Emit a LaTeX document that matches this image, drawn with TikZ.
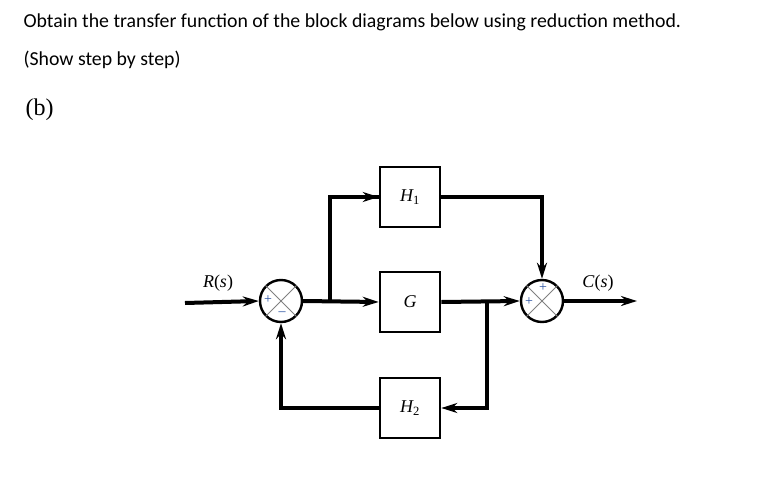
\documentclass[tikz,border=0pt]{standalone}
\usepackage{fontspec}
\setmainfont{Liberation Serif}
\newfontfamily\uisans{Carlito}
\usetikzlibrary{arrows.meta}
\definecolor{signblue}{RGB}{40,80,160}
\begin{document}
\begin{tikzpicture}[x=1pt,y=-1pt,
  blk/.style={draw, line width=2.6pt, minimum width=60pt, minimum height=60pt, inner sep=0pt, font=\fontsize{18}{20}\selectfont\itshape},
  sum/.style={draw, line width=2.4pt, circle, minimum size=42pt, inner sep=0pt},
  sig/.style={line width=4pt, -{Stealth[length=16pt,width=10pt]}},
  wire/.style={line width=4pt},
  pm/.style={font=\fontsize{14}{14}\selectfont, text=signblue, inner sep=0pt},
  lbl/.style={font=\fontsize{18}{20}\selectfont}]
\useasboundingbox (0,0) rectangle (780,498);
\node[anchor=west, font=\uisans\fontsize{19.8}{22}\selectfont] (t1) at (20,22) {Obtain the transfer function of the block diagrams below using reduction method.};
\node[anchor=west, font=\uisans\fontsize{19.8}{22}\selectfont] (t2) at (20,60) {(Show step by step)};
\node[anchor=west, font=\fontsize{24}{26}\selectfont] (tb) at (22,110) {(b)};

\node[sum] (s1) at (281,301) {};
\node[sum] (s2) at (542,301) {};
\foreach \s in {s1,s2}{
  \draw[gray, line width=1pt] (\s.north west) -- (\s.south east) (\s.north east) -- (\s.south west);}
\node[pm] at (268,300) {+};
\node[pm] at (282,314) {\textendash};
\node[pm] at (543,288) {+};
\node[pm] at (529,302) {+};

\node[blk] (h1) at (410,197) {H\textsubscript{\upshape 1}};
\node[blk] (g) at (410,302) {G};
\node[blk] (h2) at (410,408) {H\textsubscript{\upshape 2}};

\coordinate (in) at (185,303);
\coordinate (out) at (637,301);
\coordinate (b1) at (330,302);
\coordinate (b2) at (487,302);
\node[lbl] (rs) at (218,283) {\textit{R}(\textit{s})};
\node[lbl] (cs) at (598,283) {\textit{C}(\textit{s})};

\draw[sig] (in) -- (s1.west);
\draw[sig] (s1.east) -- (g.west);
\draw[wire] (b1) |- (h1.west);
\draw[sig] (b1 |- h1.west) -- (h1.west);
\draw[sig] (h1.east) -| (s2.north);
\draw[sig] (g.east) -- (s2.west);
\draw[sig] (b2) |- (h2.east);
\draw[sig] (h2.west) -| (s1.south);
\draw[sig] (s2.east) -- (out);
\end{tikzpicture}
\end{document}
